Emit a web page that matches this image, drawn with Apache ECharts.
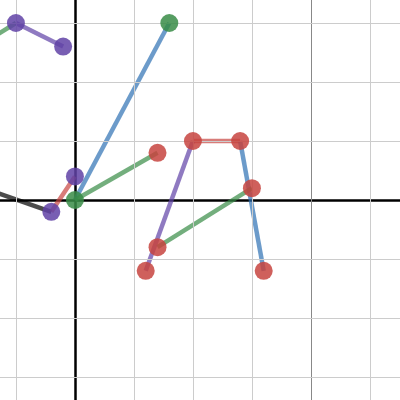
<!DOCTYPE html>
<html><head><meta charset="utf-8">
<script src="https://cdn.jsdelivr.net/npm/echarts@6/dist/echarts.min.js"></script>
<style>html,body{margin:0;padding:0;background:#fff}#c{width:400px;height:400px}</style>
</head><body><div id="c"></div>
<script>
const gridX = [-1, 1, 2, 3, 4, 5];
const gridY = [-3, -2, -1, 1, 2, 3];
const segments = [
  {color:'#388c46', pts:[[-1.4,2.75],[-1,3]]},
  {color:'#6042a6', pts:[[-1,3],[-0.2,2.6]]},
  {color:'#2d70b3', pts:[[0,0],[1.6,3]]},
  {color:'#000000', pts:[[-1.4,0.15],[-0.4,-0.2]]},
  {color:'#c74440', pts:[[-0.4,-0.2],[0,0.4]]},
  {color:'#388c46', pts:[[0,0],[1.4,0.8]]},
  {color:'#c74440', pts:[[2,1],[2.8,1]]},
  {color:'#2d70b3', pts:[[2.8,1],[3.2,-1.2]]},
  {color:'#6042a6', pts:[[1.2,-1.2],[2,1]]},
  {color:'#388c46', pts:[[1.4,-0.8],[3,0.2]]}
];
const redPts = [[1.4,0.8],[2,1],[2.8,1],[3,0.2],[3.2,-1.2],[1.2,-1.2],[1.4,-0.8]];
const purplePts = [[-1,3],[-0.2,2.6],[0,0.4],[-0.4,-0.2]];
const greenPts = [[1.6,3],[0,0]];

const series = [];
series.push({type:'line', data:[], silent:true,
  markLine:{symbol:'none', silent:true, label:{show:false},
    lineStyle:{color:'#ccc', width:1, type:'solid'},
    data: gridX.map(v=>({xAxis:v, lineStyle:{color: v===4?'#888':'#ccc'}})).concat(gridY.map(v=>({yAxis:v})))}});
segments.forEach(s=>series.push({type:'line', data:s.pts, symbol:'none', z:3,
  lineStyle:{color:s.color, width:4.5, opacity:0.7}}));
[[redPts,'#c74440'],[purplePts,'#6042a6'],[greenPts,'#388c46']].forEach(([d,c])=>
  series.push({type:'scatter', data:d, symbolSize:18, z:5, itemStyle:{color:c, opacity:0.85}}));

const chart = echarts.init(document.getElementById('c'));
chart.setOption({
  animation:false,
  grid:{left:0,right:0,top:0,bottom:0},
  xAxis:{type:'value', min:-1.27, max:5.51, axisLabel:{show:false}, axisTick:{show:false}, splitLine:{show:false},
    axisLine:{onZero:true, lineStyle:{color:'#000', width:2.5}}},
  yAxis:{type:'value', min:-3.39, max:3.39, axisLabel:{show:false}, axisTick:{show:false}, splitLine:{show:false},
    axisLine:{onZero:true, lineStyle:{color:'#000', width:2.5}}},
  series
});
</script></body></html>
